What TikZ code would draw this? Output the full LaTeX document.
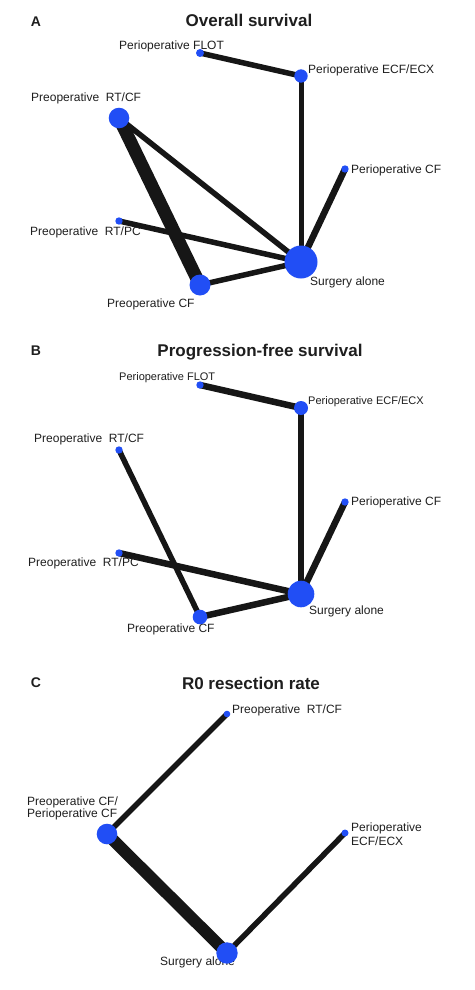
\documentclass[tikz,border=0pt]{standalone}
\usepackage{fontspec}
\setmainfont{Liberation Sans}
\pgfdeclarelayer{bg}
\pgfsetlayers{bg,main}
\definecolor{nodeblue}{RGB}{33,78,245}
\definecolor{edgeblack}{RGB}{22,22,22}
\definecolor{txt}{RGB}{30,30,30}
\tikzset{
  dot/.style={circle,fill=nodeblue,draw=none,inner sep=0pt,minimum size=#1},
  lab/.style={anchor=mid west,inner sep=0pt,text=txt,font=\fontsize{12}{14}\selectfont},
  labs/.style={anchor=mid west,inner sep=0pt,text=txt,font=\fontsize{11}{13}\selectfont},
  ttl/.style={inner sep=0pt,text=txt,font=\fontsize{17}{20}\selectfont\bfseries},
  letter/.style={inner sep=0pt,text=txt,font=\fontsize{14}{16}\selectfont\bfseries},
  edge/.style={draw=edgeblack,line width=#1,line cap=butt},
}
\begin{document}
\begin{tikzpicture}[x=1pt,y=-1pt]
\useasboundingbox (0,0) rectangle (474,990);
% ---------------- Panel A ----------------
\node[letter] (aL) at (36,22) {A};
\node[ttl] (aT) at (249,20) {Overall survival};
\node[lab] (aflotL) at (119,47) {Perioperative FLOT};
\node[lab] (aecfL) at (308,71) {Perioperative ECF/ECX};
\node[lab] (artcfL) at (31,99) {Preoperative\ \ RT/CF};
\node[lab] (apcfL) at (351,171) {Perioperative CF};
\node[lab] (artpcL) at (30,233) {Preoperative\ \ RT/PC};
\node[lab] (asaL) at (310,283) {Surgery alone};
\node[lab] (aprecfL) at (107,305) {Preoperative CF};
\node[dot=8pt] (aflot) at (200,53) {};
\node[dot=13.4pt] (aecf) at (301,76) {};
\node[dot=20.6pt] (artcf) at (119,118) {};
\node[dot=7.4pt] (apcf) at (345,169) {};
\node[dot=7.4pt] (artpc) at (119,221) {};
\node[dot=33pt] (asa) at (301,262) {};
\node[dot=21pt] (aprecf) at (200,285) {};
\begin{pgfonlayer}{bg}
\draw[edge=5.5pt] (aflot.center) -- (aecf.center);
\draw[edge=5pt] (aecf.center) -- (asa.center);
\draw[edge=13pt] (artcf.center) -- (aprecf.center);
\draw[edge=5.5pt] (artcf.center) -- (asa.center);
\draw[edge=5.5pt] (artpc.center) -- (asa.center);
\draw[edge=6.5pt] (apcf.center) -- (asa.center);
\draw[edge=5.5pt] (aprecf.center) -- (asa.center);
\end{pgfonlayer}
% ---------------- Panel B ----------------
\node[letter] (bL) at (36,351) {B};
\node[ttl] (bT) at (260,352) {Progression-free survival};
\node[labs] (bflotL) at (119,378) {Perioperative FLOT};
\node[labs] (becfL) at (308,402) {Perioperative ECF/ECX};
\node[lab] (brtcfL) at (34,440) {Preoperative\ \ RT/CF};
\node[lab] (bpcfL) at (351,503) {Perioperative CF};
\node[lab] (brtpcL) at (28,564) {Preoperative\ \ RT/PC};
\node[lab] (bsaL) at (309,612) {Surgery alone};
\node[lab] (bprecfL) at (127,630) {Preoperative CF};
\node[dot=7.4pt] (bflot) at (200,385) {};
\node[dot=14pt] (becf) at (301,408) {};
\node[dot=7.4pt] (brtcf) at (119,450) {};
\node[dot=7.4pt] (bpcf) at (345,502) {};
\node[dot=7.4pt] (brtpc) at (119,553) {};
\node[dot=26.6pt] (bsa) at (301,594) {};
\node[dot=14.6pt] (bprecf) at (200,617) {};
\begin{pgfonlayer}{bg}
\draw[edge=6.5pt] (bflot.center) -- (becf.center);
\draw[edge=6.5pt] (becf.center) -- (bsa.center);
\draw[edge=5.5pt] (brtcf.center) -- (bprecf.center);
\draw[edge=6.5pt] (brtpc.center) -- (bsa.center);
\draw[edge=6.5pt] (bpcf.center) -- (bsa.center);
\draw[edge=6.5pt] (bprecf.center) -- (bsa.center);
\end{pgfonlayer}
% ---------------- Panel C ----------------
\node[letter] (cL) at (36,683) {C};
\node[ttl] (cT) at (251,683) {R0 resection rate};
\node[lab] (crtcfL) at (232,711) {Preoperative\ \ RT/CF};
\node[lab,align=left,font=\fontsize{12}{10}\selectfont] (cpcL) at (27,815) {Preoperative CF/\\Perioperative CF};
\node[lab,align=left] (cecfL) at (351,843) {Perioperative\\ECF/ECX};
\node[lab] (csaL) at (160,963) {Surgery alone};
\node[dot=6.6pt] (crtcf) at (227,714) {};
\node[dot=20.6pt] (cpc) at (107,834) {};
\node[dot=7pt] (cecf) at (345,833) {};
\node[dot=21.4pt] (csa) at (227,953) {};
\begin{pgfonlayer}{bg}
\draw[edge=5.5pt] (crtcf.center) -- (cpc.center);
\draw[edge=12pt] (cpc.center) -- (csa.center);
\draw[edge=5.5pt] (csa.center) -- (cecf.center);
\end{pgfonlayer}
\end{tikzpicture}
\end{document}
